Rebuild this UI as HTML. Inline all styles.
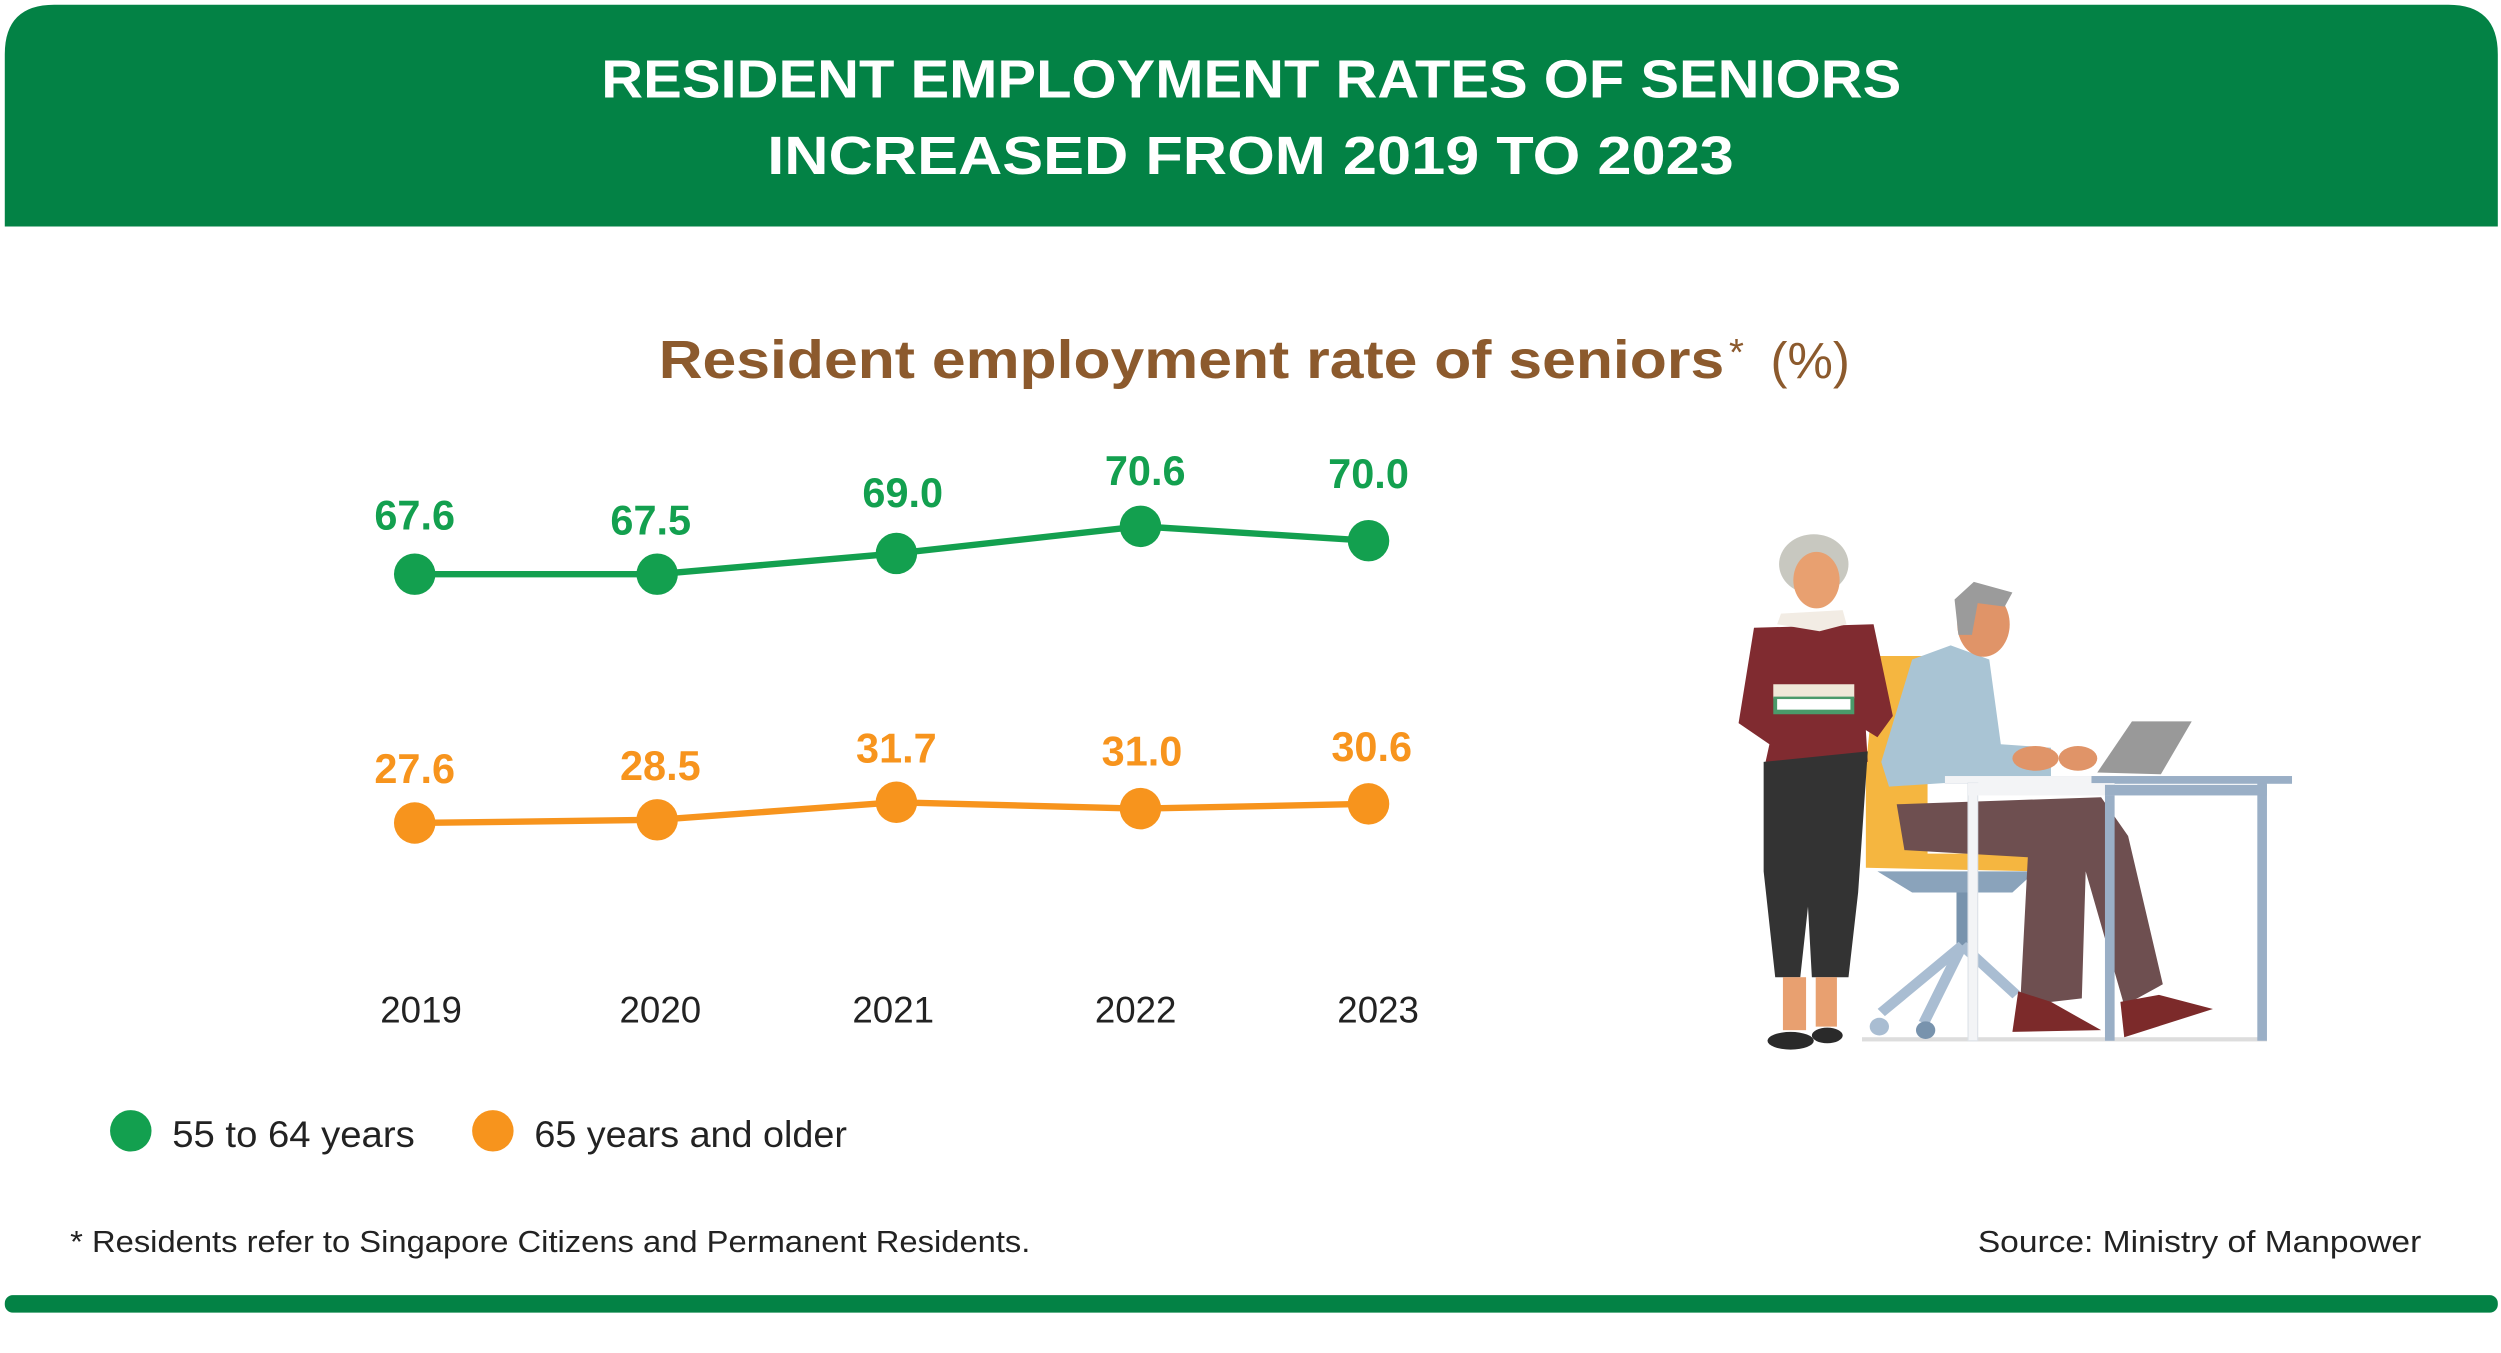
<!DOCTYPE html>
<html><head><meta charset="utf-8"><style>
html,body{margin:0;padding:0;background:#fff}
svg{display:block}
text{font-family:"Liberation Sans",sans-serif}
</style></head><body>
<svg width="2501" height="1353" viewBox="0 0 1568 848.3" preserveAspectRatio="none" xmlns="http://www.w3.org/2000/svg">
<rect width="1568" height="849" fill="#fff"/>
<path d="M3,142 L3,34 Q3,3 34,3 L1535,3 Q1566,3 1566,34 L1566,142 Z" fill="#038245"/>
<text x="377" y="61" textLength="815" lengthAdjust="spacingAndGlyphs" font-size="34" font-weight="bold" fill="#fff">RESIDENT EMPLOYMENT RATES OF SENIORS</text>
<text x="481" y="109" textLength="606" lengthAdjust="spacingAndGlyphs" font-size="34" font-weight="bold" fill="#fff">INCREASED FROM 2019 TO 2023</text>
<text x="413" y="237" textLength="668" lengthAdjust="spacingAndGlyphs" font-size="34" font-weight="bold" fill="#8c5a2d">Resident employment rate of seniors</text>
<text x="1084" y="229" font-size="24" fill="#8c5a2d">*</text>
<text x="1110" y="237" font-size="32" fill="#8c5a2d">(%)</text>

<polyline points="260,360 412,360 562,347 715,330 858,339" fill="none" stroke="#13a04f" stroke-width="4"/>
<g fill="#13a04f"><circle cx="260" cy="360" r="13"/><circle cx="412" cy="360" r="13"/><circle cx="562" cy="347" r="13"/><circle cx="715" cy="330" r="13"/><circle cx="858" cy="339" r="13"/></g>
<g fill="#13a04f" font-size="26" font-weight="bold" text-anchor="middle">
<text x="260" y="332">67.6</text><text x="408" y="335">67.5</text><text x="566" y="318">69.0</text><text x="718" y="304">70.6</text><text x="858" y="306">70.0</text></g>

<polyline points="260,516 412,514 562,503 715,507 858,504" fill="none" stroke="#f7941d" stroke-width="4"/>
<g fill="#f7941d"><circle cx="260" cy="516" r="13"/><circle cx="412" cy="514" r="13"/><circle cx="562" cy="503" r="13"/><circle cx="715" cy="507" r="13"/><circle cx="858" cy="504" r="13"/></g>
<g fill="#f7941d" font-size="26" font-weight="bold" text-anchor="middle">
<text x="260" y="491">27.6</text><text x="414" y="489">28.5</text><text x="562" y="478">31.7</text><text x="716" y="480">31.0</text><text x="860" y="477">30.6</text></g>

<g fill="#222" font-size="23" text-anchor="middle">
<text x="264" y="641">2019</text><text x="414" y="641">2020</text><text x="560" y="641">2021</text><text x="712" y="641">2022</text><text x="864" y="641">2023</text></g>

<circle cx="82" cy="709" r="13" fill="#13a04f"/>
<text x="108" y="719" font-size="23" textLength="152" lengthAdjust="spacingAndGlyphs" fill="#222">55 to 64 years</text>
<circle cx="309" cy="709" r="13" fill="#f7941d"/>
<text x="335" y="719" font-size="23" textLength="196" lengthAdjust="spacingAndGlyphs" fill="#222">65 years and older</text>

<text x="44" y="785" font-size="19" textLength="602" lengthAdjust="spacingAndGlyphs" fill="#222">* Residents refer to Singapore Citizens and Permanent Residents.</text>
<text x="1240" y="785" font-size="19" textLength="278" lengthAdjust="spacingAndGlyphs" fill="#222">Source: Ministry of Manpower</text>

<rect x="3" y="812" width="1563" height="11" rx="5" fill="#038245"/>

<g transform="translate(1063.4,325) scale(0.2418,0.2213)">
<rect x="430" y="1470" width="1050" height="12" fill="#ddd"/>
<path d="M470,390 L600,390 L600,950 L880,950 L880,1000 L440,990 L440,700 Z" fill="#f5b640"/>
<path d="M470,1000 L880,1000 L820,1060 L560,1060 Z" fill="#8aa3bb"/>
<rect x="675" y="1060" width="30" height="150" fill="#7893ad"/>
<path d="M690,1210 L480,1400 M690,1210 L590,1430 M690,1210 L830,1350" stroke="#a9bdd2" stroke-width="28" fill="none"/>
<circle cx="475" cy="1440" r="25" fill="#a9bdd2"/><circle cx="595" cy="1450" r="25" fill="#7893ad"/>
<path d="M150,310 L460,300 L510,560 L470,620 L440,600 L445,690 L180,690 L190,640 L110,580 Z" fill="#802b30"/>
<ellipse cx="305" cy="130" rx="90" ry="85" fill="#c8c8c0"/>
<ellipse cx="312" cy="175" rx="60" ry="80" fill="#e8a070"/>
<path d="M220,270 L380,260 L390,300 L320,320 L210,300 Z" fill="#f2ece4"/>
<rect x="200" y="470" width="210" height="40" fill="#efe8d8"/>
<rect x="200" y="505" width="210" height="50" fill="#4a9a6a"/>
<rect x="210" y="512" width="190" height="30" fill="#fff"/>
<path d="M175,690 L445,660 L420,1060 L395,1300 L300,1300 L290,1100 L270,1300 L205,1300 L175,1000 Z" fill="#333"/>
<rect x="225" y="1300" width="60" height="150" fill="#e8a070"/>
<rect x="310" y="1300" width="55" height="140" fill="#e8a070"/>
<ellipse cx="245" cy="1480" rx="60" ry="25" fill="#2a2a2a"/>
<ellipse cx="340" cy="1465" rx="40" ry="22" fill="#2a2a2a"/>
<path d="M480,690 L560,400 L660,360 L760,400 L790,640 L920,650 L920,730 L500,760 Z" fill="#a9c4d4"/>
<ellipse cx="745" cy="300" rx="68" ry="92" fill="#e09468"/>
<path d="M680,330 L670,230 L720,180 L820,210 L800,250 L730,240 L715,330 Z" fill="#9b9b9b"/>
<ellipse cx="880" cy="680" rx="60" ry="35" fill="#e09468"/>
<ellipse cx="990" cy="680" rx="50" ry="35" fill="#e09468"/>
<path d="M520,810 L1050,790 L1120,900 L1210,1320 L1110,1380 L1010,1000 L1000,1360 L840,1380 L860,960 L540,940 Z" fill="#6e4f50"/>
<path d="M835,1340 L920,1370 L1050,1450 L820,1455 Z" fill="#7c2a2a"/>
<path d="M1100,1370 L1200,1350 L1340,1390 L1110,1470 Z" fill="#7c2a2a"/>
<path d="M1040,720 L1130,575 L1285,575 L1205,725 Z" fill="#999"/>
<rect x="645" y="730" width="900" height="22" fill="#9aafc6"/>
<rect x="645" y="730" width="380" height="22" fill="#f3f4f6"/>
<rect x="705" y="750" width="25" height="730" fill="#f3f4f6" stroke="#dde2e8" stroke-width="3"/>
<rect x="1060" y="750" width="25" height="730" fill="#9aafc6"/>
<rect x="1455" y="750" width="25" height="730" fill="#9aafc6"/>
<rect x="705" y="750" width="380" height="35" fill="#f3f4f6"/>
<rect x="1060" y="755" width="420" height="30" fill="#9aafc6"/>
</g>
</svg>
</body></html>
